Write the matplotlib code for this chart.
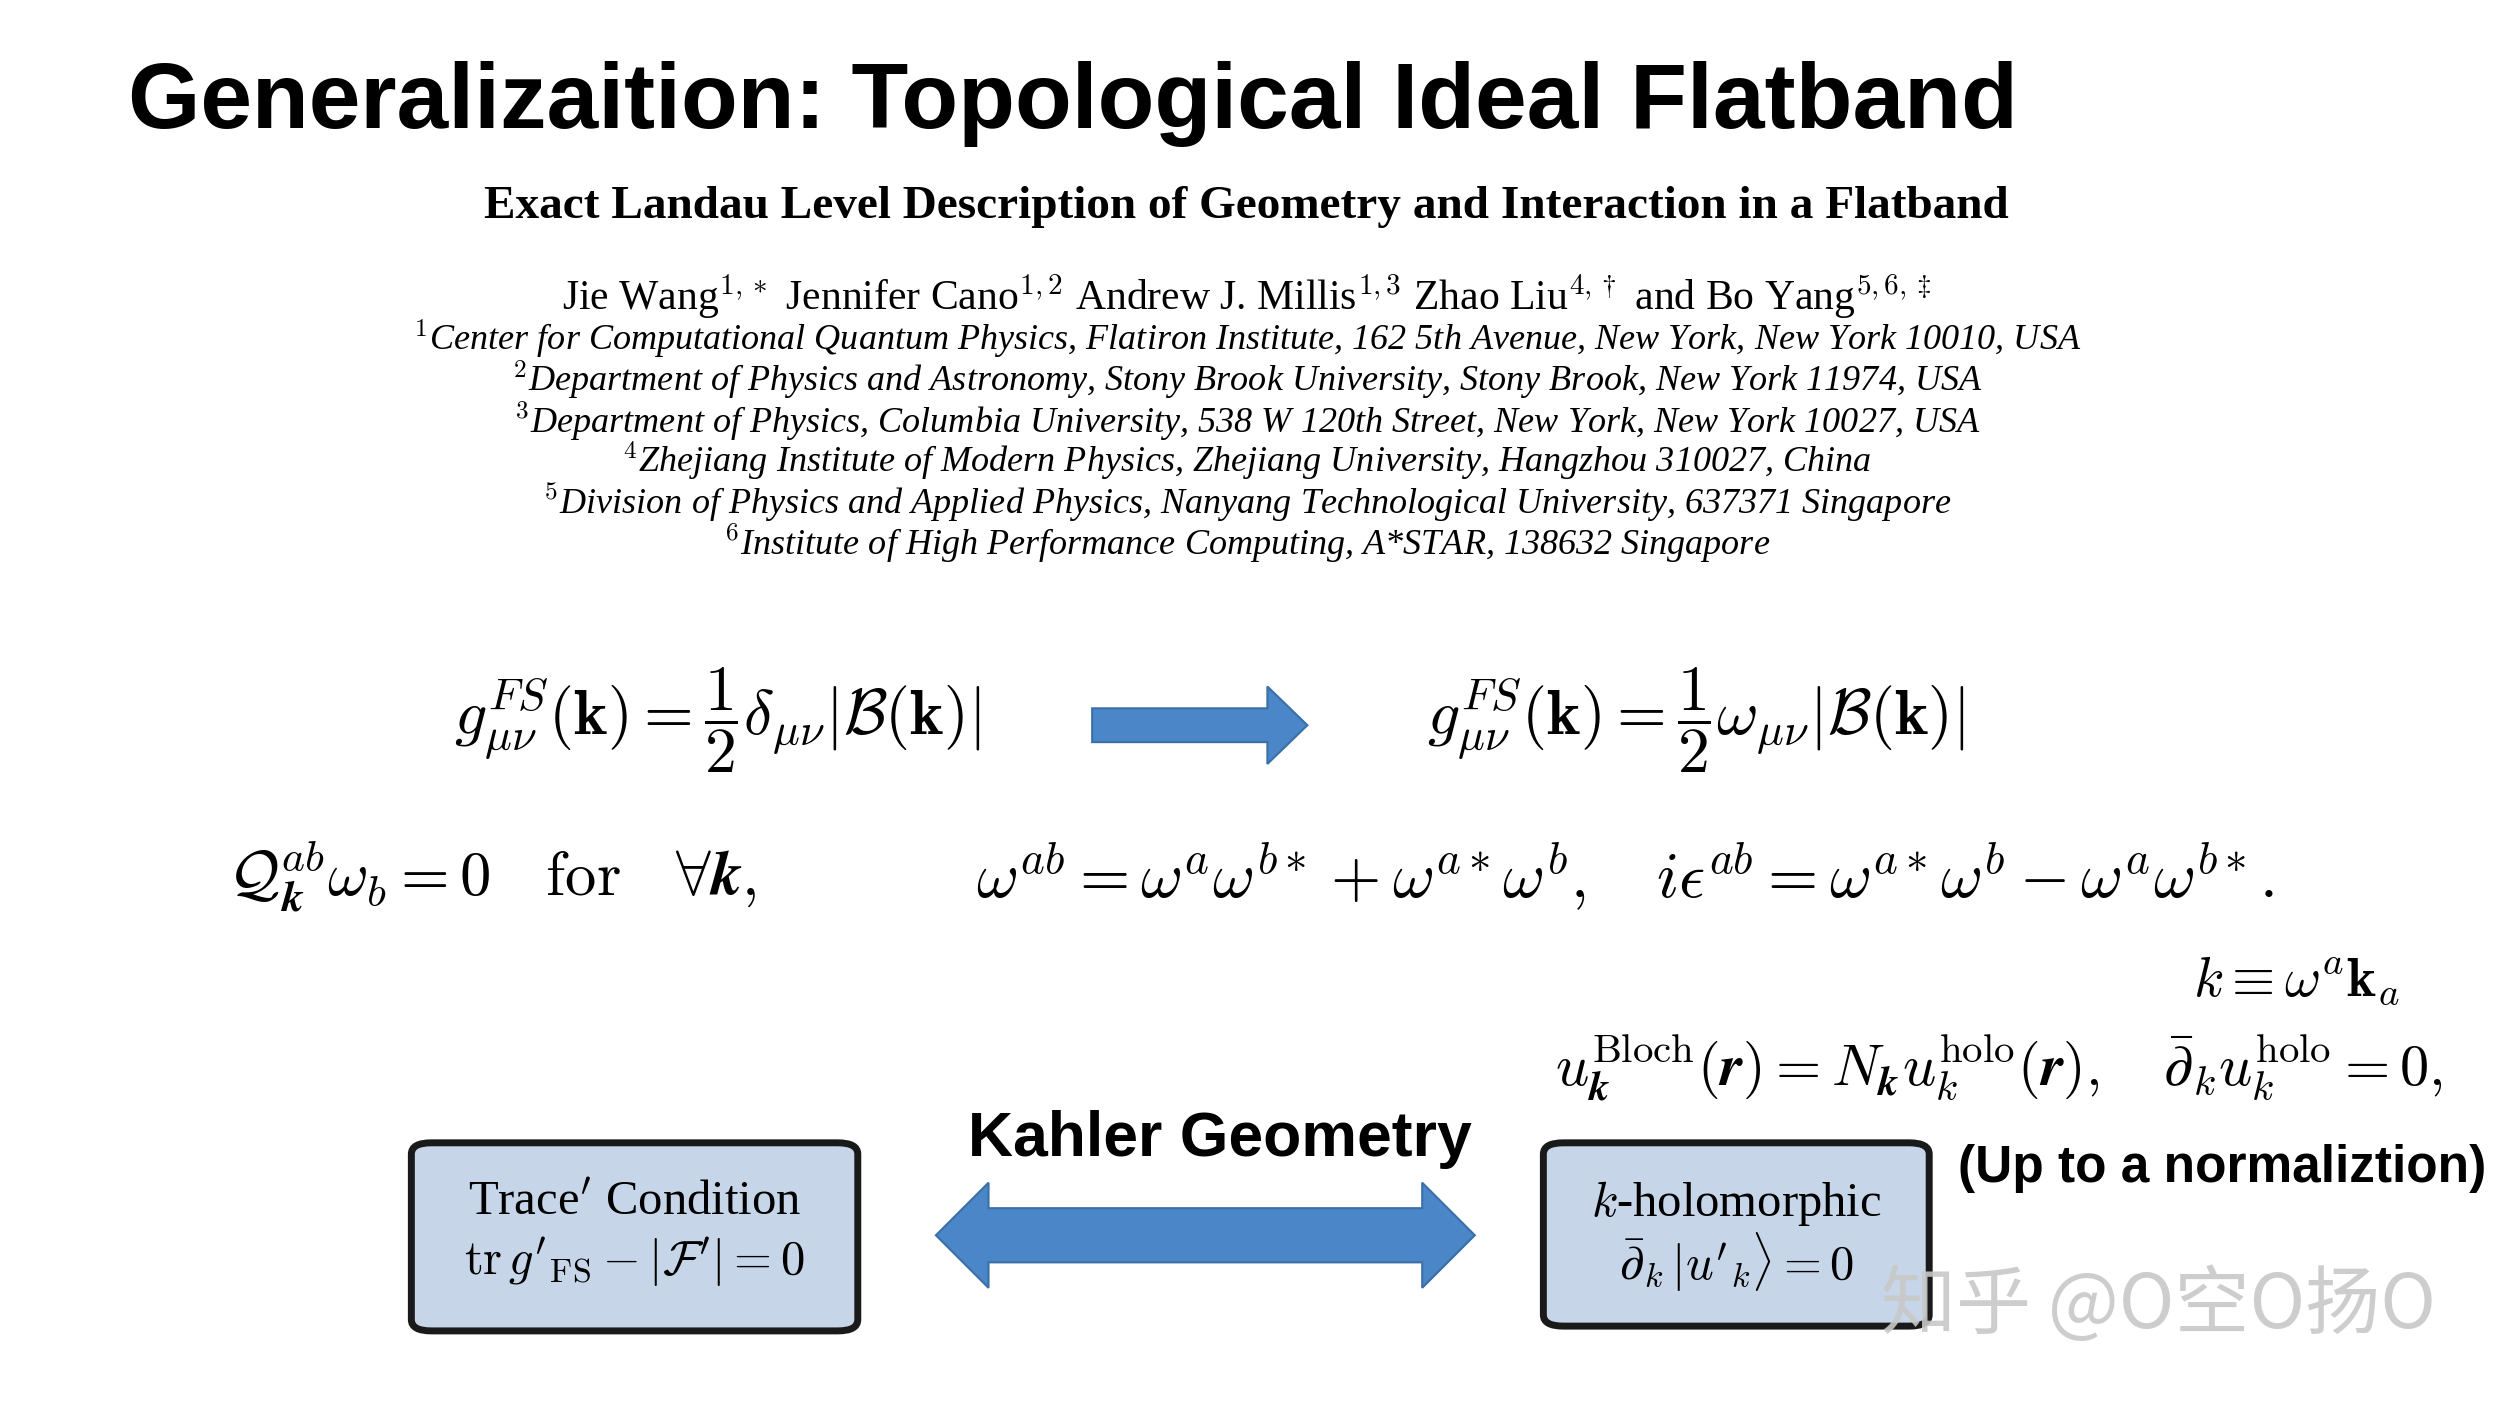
import matplotlib
matplotlib.use("Agg")
import matplotlib.pyplot as plt
from matplotlib.patches import FancyBboxPatch, FancyArrow, Polygon

plt.rcParams['mathtext.fontset'] = 'cm'
W, H = 1568, 884
title = "Generalizaition: Topological Ideal Flatband"
paper = "Exact Landau Level Description of Geometry and Interaction in a Flatband"
affils = [
    r"$^{1}$Center for Computational Quantum Physics, Flatiron Institute, 162 5th Avenue, New York, New York 10010, USA",
    r"$^{2}$Department of Physics and Astronomy, Stony Brook University, Stony Brook, New York 11974, USA",
    r"$^{3}$Department of Physics, Columbia University, 538 W 120th Street, New York, New York 10027, USA",
    r"$^{4}$Zhejiang Institute of Modern Physics, Zhejiang University, Hangzhou 310027, China",
    r"$^{5}$Division of Physics and Applied Physics, Nanyang Technological University, 637371 Singapore",
    r"$^{6}$Institute of High Performance Computing, A*STAR, 138632 Singapore",
]

fig = plt.figure(figsize=(25, 14.09), dpi=100)
fig.patch.set_facecolor("white")

def fx(x): return x / W
def fy(y): return 1 - y / H
def T(x, y, s, **kw):
    fig.text(fx(x), fy(y), s, **kw)

T(80, 65, title, fontsize=67, fontweight='bold', family='Liberation Sans', va='center', ha='left')
T(782, 130, paper, fontsize=34, fontweight='bold', family='Liberation Serif', va='center', ha='center')
T(782, 186, r"Jie Wang$^{1,*}$ Jennifer Cano$^{1,2}$ Andrew J. Millis$^{1,3}$ Zhao Liu$^{4,\dagger}$ and Bo Yang$^{5,6,\ddagger}$",
  fontsize=30, family='Liberation Serif', va='center', ha='center')
for i, a in enumerate(affils):
    T(782, 213 + 25.6 * i, a, fontsize=26, family='Liberation Serif', style='italic', va='center', ha='center')

T(285, 452, r"$g^{FS}_{\mu\nu}(\mathbf{k})=\dfrac{1}{2}\delta_{\mu\nu}|\mathcal{B}(\mathbf{k})|$", fontsize=46, va='center', ha='left')
T(895, 452, r"$g^{FS}_{\mu\nu}(\mathbf{k})=\dfrac{1}{2}\omega_{\mu\nu}|\mathcal{B}(\mathbf{k})|$", fontsize=46, va='center', ha='left')
fig.patches.append(FancyArrow(fx(685), fy(455), fx(820)-fx(685), 0, width=0.024, head_width=0.055,
                              head_length=0.016, length_includes_head=True, transform=fig.transFigure,
                              fc='#4a86c8', ec='#3b6fa8', lw=1.5))

T(143, 550, r"$\mathcal{Q}^{ab}_{\boldsymbol{k}}\omega_b=0\quad\mathrm{for}\quad\forall\boldsymbol{k},$", fontsize=45, va='center', ha='left')
T(612, 550, r"$\omega^{ab}=\omega^a\omega^{b*}+\omega^{a*}\omega^b,\quad i\epsilon^{ab}=\omega^{a*}\omega^b-\omega^a\omega^{b*}.$", fontsize=46.5, va='center', ha='left')
T(1505, 615, r"$k\equiv\omega^a\mathbf{k}_a$", fontsize=40, va='center', ha='right')
T(975, 670, r"$u^{\mathrm{Bloch}}_{\boldsymbol{k}}(\boldsymbol{r})=N_{\boldsymbol{k}}u^{\mathrm{holo}}_{k}(\boldsymbol{r}),\quad\bar{\partial}_k u^{\mathrm{holo}}_k=0,$",
  fontsize=42, va='center', ha='left')

T(765, 715, "Kahler Geometry", fontsize=45, fontweight='bold', family='Liberation Sans', va='center', ha='center')
T(1228, 733, "(Up to a normaliztion)", fontsize=37, fontweight='bold', family='Liberation Sans', va='center', ha='left')

for (x0, x1, y0, y1, l1, l2) in [
    (258, 538, 717, 835, r"Trace$'$ Condition", r"$\mathrm{tr}\,g'_{\mathrm{FS}}-|\mathcal{F}'|=0$"),
    (968, 1210, 717, 832, r"$k$-holomorphic", r"$\bar{\partial}_k\,|u'_k\rangle=0$")]:
    fig.patches.append(FancyBboxPatch((fx(x0), fy(y1)), fx(x1)-fx(x0), fy(y0)-fy(y1),
                       boxstyle="round,pad=0,rounding_size=0.008", transform=fig.transFigure,
                       fc='#c6d5e8', ec='#1a1a1a', lw=5))
    T((x0+x1)/2, 755, l1, fontsize=35, family='Liberation Serif', va='center', ha='center')
    T((x0+x1)/2, 792, l2, fontsize=35, va='center', ha='center')

pts = [(587, 775), (620, 742), (620, 758), (892, 758), (892, 742), (925, 775),
       (892, 808), (892, 792), (620, 792), (620, 808)]
fig.patches.append(Polygon([(fx(a), fy(b)) for a, b in pts], closed=True, transform=fig.transFigure,
                           fc='#4a86c8', ec='#3b6fa8', lw=1.5))

T(1180, 820, "知乎 @O空O扬O", fontsize=54, color='#c8c8c8', alpha=0.9,
  family=['Noto Sans CJK SC', 'DejaVu Sans'], va='center', ha='left')

fig.savefig("out.png", dpi=100)
